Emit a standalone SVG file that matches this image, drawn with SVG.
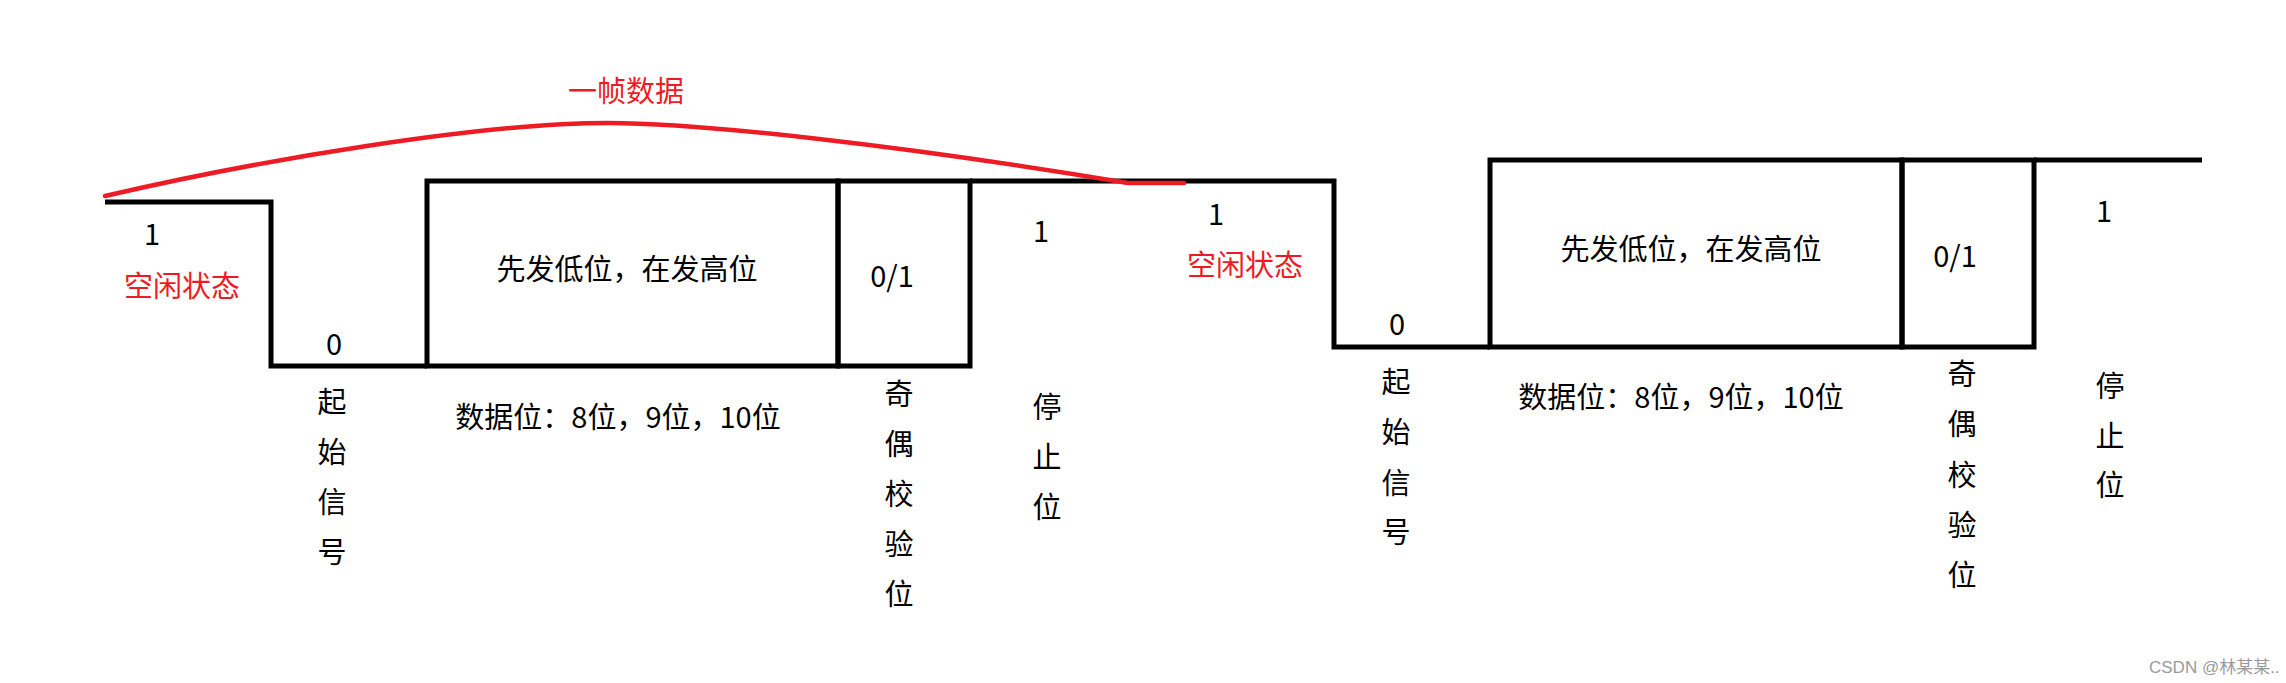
<svg xmlns="http://www.w3.org/2000/svg" width="2286" height="683" viewBox="0 0 2286 683">
<style>
.t{font-family:"Noto Sans CJK SC","Liberation Sans",sans-serif;font-size:29px;fill:#000;text-anchor:middle}
.r{fill:#ed1c24}
.w{fill:none;stroke:#000;stroke-width:5;stroke-linejoin:miter}
.rc{fill:none;stroke:#ed1c24;stroke-width:4.5;stroke-linecap:round}
.wm{font-family:"Liberation Sans","Noto Sans CJK SC",sans-serif;font-size:17px;fill:#9a9a9a}
</style>
<rect width="2286" height="683" fill="#fff"/>
<g id="connectors">
<path class="w" d="M105,202 H271 V366 H427"/>
<path class="w" d="M970,181 H1334 V347 H1490"/>
<path class="w" d="M2034,160 H2202"/>
<path class="rc" d="M105,196 C260,160 480,123 608,123 C700,123 900,145 1128,183 L1184,183"/>
</g>
<g id="frame-label">
<text class="t r" x="626" y="102">一帧数据</text>
</g>
<g id="idle1">
<text class="t" x="152" y="245">1</text>
<text class="t r" x="182" y="297">空闲状态</text>
</g>
<g id="start1">
<text class="t" x="334" y="355">0</text>
<text class="t" x="332" y="413">起</text>
<text class="t" x="332" y="463">始</text>
<text class="t" x="332" y="513">信</text>
<text class="t" x="332" y="563">号</text>
</g>
<g id="data1">
<rect class="w" x="427" y="181" width="411" height="185"/>
<text class="t" x="627" y="280">先发低位，在发高位</text>
<text class="t" x="618" y="428">数据位：8位，9位，10位</text>
</g>
<g id="parity1">
<rect class="w" x="838" y="181" width="132" height="185"/>
<text class="t" x="892" y="287">0/1</text>
<text class="t" x="899" y="405">奇</text>
<text class="t" x="899" y="455">偶</text>
<text class="t" x="899" y="505">校</text>
<text class="t" x="899" y="555">验</text>
<text class="t" x="899" y="605">位</text>
</g>
<g id="stop1">
<text class="t" x="1041" y="242">1</text>
<text class="t" x="1047" y="418">停</text>
<text class="t" x="1047" y="468">止</text>
<text class="t" x="1047" y="518">位</text>
</g>
<g id="idle2">
<text class="t" x="1216" y="225">1</text>
<text class="t r" x="1245" y="276">空闲状态</text>
</g>
<g id="start2">
<text class="t" x="1397" y="335">0</text>
<text class="t" x="1396" y="393">起</text>
<text class="t" x="1396" y="443">始</text>
<text class="t" x="1396" y="494">信</text>
<text class="t" x="1396" y="543">号</text>
</g>
<g id="data2">
<rect class="w" x="1490" y="160" width="412" height="187"/>
<text class="t" x="1691" y="260">先发低位，在发高位</text>
<text class="t" x="1681" y="408">数据位：8位，9位，10位</text>
</g>
<g id="parity2">
<rect class="w" x="1902" y="160" width="132" height="187"/>
<text class="t" x="1955" y="267">0/1</text>
<text class="t" x="1962" y="385">奇</text>
<text class="t" x="1962" y="435">偶</text>
<text class="t" x="1962" y="486">校</text>
<text class="t" x="1962" y="536">验</text>
<text class="t" x="1962" y="586">位</text>
</g>
<g id="stop2">
<text class="t" x="2104" y="222">1</text>
<text class="t" x="2110" y="397">停</text>
<text class="t" x="2110" y="447">止</text>
<text class="t" x="2110" y="496">位</text>
</g>
<text class="wm" x="2149" y="673">CSDN @林某某..</text>
</svg>
